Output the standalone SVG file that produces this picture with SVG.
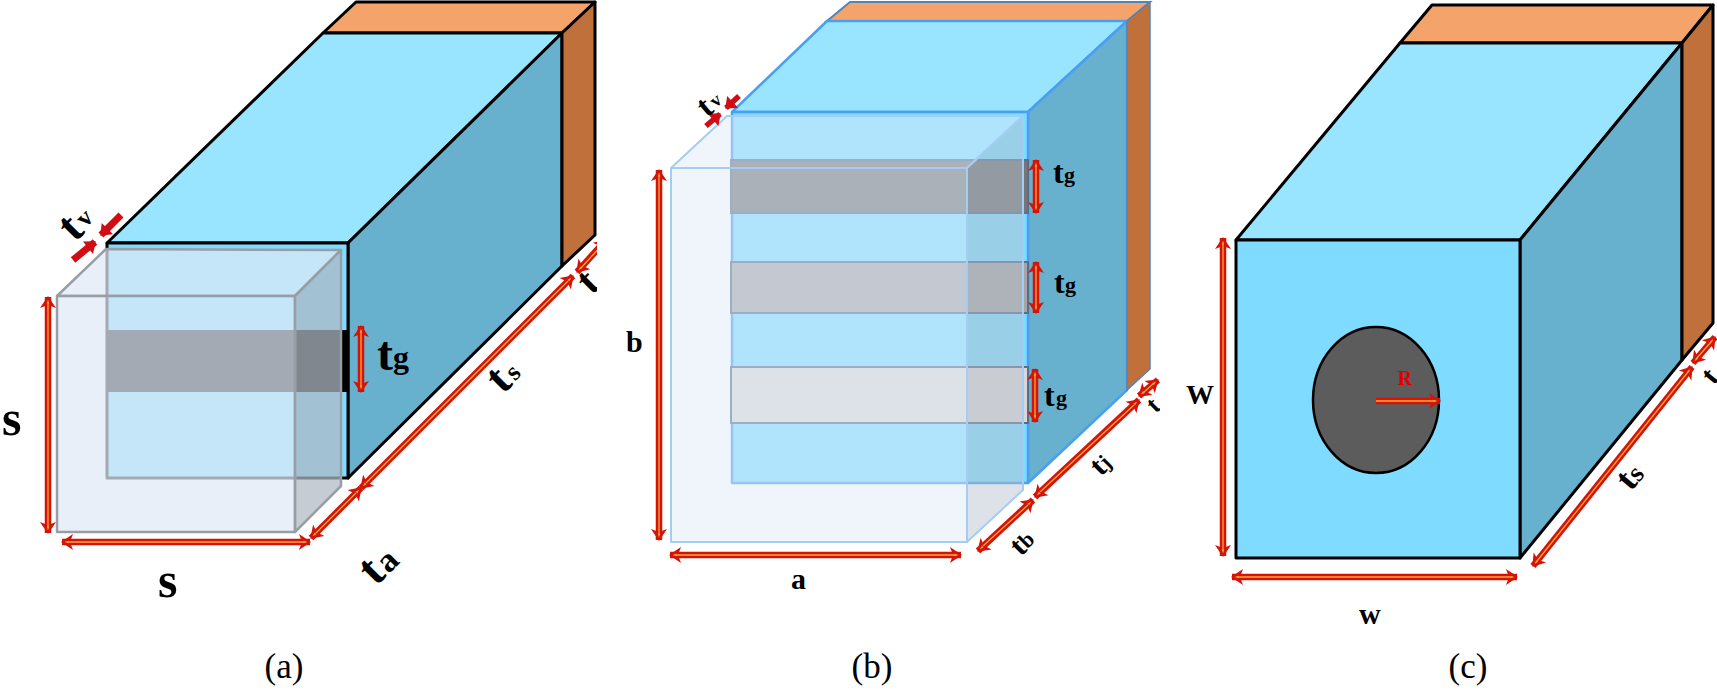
<svg xmlns="http://www.w3.org/2000/svg" width="1717" height="690" viewBox="0 0 1717 690">
<style>
text{font-family:"Liberation Serif","Times New Roman",serif;fill:#000}
.b{font-weight:bold}
.k{stroke:#000;stroke-width:3;stroke-linejoin:round}
.u{stroke:#4a9ff0;stroke-width:2.5;stroke-linejoin:round}
.top{fill:#99e4ff}.side{fill:#67b1cf}.front{fill:#7fdbff}.or{fill:#f4a46a}.br{fill:#c0703a}
.ga{fill:#dfe9f5;fill-opacity:.73;stroke:#979ea5;stroke-width:2.5;stroke-linejoin:round}
.gas{fill:#afb9c4;fill-opacity:.73;stroke:#979ea5;stroke-width:2.5;stroke-linejoin:round}
.gb{fill:#e2ecfa;fill-opacity:.5;stroke:#a3cdf2;stroke-width:2;stroke-linejoin:round}
.gbs{fill:#b7c2ce;fill-opacity:.48;stroke:#a3cdf2;stroke-width:2;stroke-linejoin:round}
.r{stroke:#d41408;stroke-width:6.5;fill:none;marker-start:url(#h);marker-end:url(#h)}
.o{stroke:#f6a83c;stroke-width:1.3;fill:none}
.t{stroke:#d00c14;stroke-width:7;fill:none;marker-end:url(#s)}
</style>
<defs>
<marker id="h" markerUnits="userSpaceOnUse" markerWidth="16" markerHeight="18" refX="11" refY="9" orient="auto-start-reverse" overflow="visible">
<path d="M0,1 L12,9 L0,17 L3,9Z" fill="#d41408"/><path d="M4.5,7.8 L8.5,9 L4.5,10.2Z" fill="#f6a83c"/>
</marker>
<marker id="s" markerUnits="userSpaceOnUse" markerWidth="14" markerHeight="16" refX="9" refY="8" orient="auto" overflow="visible">
<path d="M0,0 L10,8 L0,16Z" fill="#d00c14"/>
</marker>
<clipPath id="ca"><rect x="0" y="0" width="597" height="690"/></clipPath>
<clipPath id="cb"><rect x="600" y="0" width="560" height="690"/></clipPath>
</defs>
<rect width="1717" height="690" fill="#fff"/>

<g id="node-a">
<polygon class="or k" points="323,33 356,2 595,2 562,33"/>
<polygon class="top k" points="107,243 323,33 562,33 348,243"/>
<polygon class="side k" points="348,243 562,33 562,266 348,478"/>
<polygon class="br k" points="562,33 595,2 595,235 562,266"/>
<rect class="front k" x="107" y="243" width="241" height="235"/>
<rect x="107" y="330" width="241" height="62" fill="#000"/>
<polygon class="ga" points="57,296 106,249 341,250 295,296"/>
<rect class="ga" x="57" y="296" width="238" height="236"/>
<polygon class="gas" points="295,296 341,250 341,486 295,532"/>
</g>

<g id="node-b">
<polygon class="or" stroke="#4f86b8" stroke-width="2" points="827,21 850,2 1150,2 1127,21"/>
<polygon class="top u" points="732,112 827,21 1127,21 1028,112"/>
<polygon class="side u" points="1028,112 1127,21 1127,390 1028,483"/>
<polygon class="br" stroke="#4f86b8" stroke-width="1.5" points="1127,21 1150,2 1150,369 1127,390"/>
<rect class="front u" x="732" y="112" width="296" height="371"/>
<rect x="731" y="160" width="297" height="53" fill="#747678" stroke="#56708c" stroke-width="2"/>
<rect x="731" y="262" width="297" height="51" fill="#a6a4a6" stroke="#56708c" stroke-width="2"/>
<rect x="731" y="367" width="297" height="56" fill="#d8d6d6" stroke="#56708c" stroke-width="2"/>
<polygon class="gb" points="671,168 727,116 1023,116 967,168"/>
<rect class="gb" x="671" y="168" width="296" height="374"/>
<polygon class="gbs" points="967,168 1023,116 1023,490 967,542"/>
</g>

<g id="node-c">
<polygon class="or k" points="1400,43 1432,5 1713,5 1682,43"/>
<polygon class="top k" points="1236,240 1400,43 1682,43 1520,240"/>
<polygon class="side k" points="1520,240 1682,43 1682,360 1520,558"/>
<polygon class="br k" points="1682,43 1713,5 1713,323 1682,360"/>
<rect class="front k" x="1236" y="240" width="284" height="318"/>
<ellipse cx="1376" cy="400" rx="63" ry="73" fill="#5c5c5c" stroke="#000" stroke-width="2.5"/>
</g>

<g id="connectors">
<g><line class="r" x1="48" y1="297" x2="48" y2="533"/><line class="o" x1="48" y1="303" x2="48" y2="527"/></g>
<g><line class="r" x1="62" y1="542" x2="310" y2="542"/><line class="o" x1="68" y1="542" x2="304" y2="542"/></g>
<g><line class="r" x1="311" y1="538" x2="361" y2="488"/><line class="o" x1="316" y1="533" x2="356" y2="493"/></g>
<g clip-path="url(#ca)"><line class="r" x1="361" y1="488" x2="573" y2="276"/><line class="o" x1="366" y1="483" x2="568" y2="281"/>
<line class="r" x1="577" y1="272" x2="606" y2="240"/><line class="o" x1="581" y1="268" x2="602" y2="245"/></g>
<g><line class="r" x1="361" y1="326" x2="361" y2="392"/><line class="o" x1="361" y1="332" x2="361" y2="386"/></g>
<line class="t" x1="73" y1="260" x2="95" y2="242"/>
<line class="t" x1="121" y1="215" x2="101" y2="235"/>

<g><line class="r" x1="659" y1="170" x2="659" y2="540"/><line class="o" x1="659" y1="176" x2="659" y2="534"/></g>
<g><line class="r" x1="670" y1="555" x2="961" y2="555"/><line class="o" x1="676" y1="555" x2="955" y2="555"/></g>
<g><line class="r" x1="978" y1="551" x2="1033" y2="500"/><line class="o" x1="983" y1="546" x2="1028" y2="505"/></g>
<g><line class="r" x1="1035" y1="497" x2="1139" y2="400"/><line class="o" x1="1040" y1="492" x2="1134" y2="405"/></g>
<g clip-path="url(#cb)"><line class="r" x1="1139" y1="396" x2="1158" y2="380"/><line class="o" x1="1143" y1="393" x2="1154" y2="383"/></g>
<g><line class="r" x1="1036" y1="160" x2="1036" y2="213"/><line class="o" x1="1036" y1="166" x2="1036" y2="207"/></g>
<g><line class="r" x1="1036" y1="262" x2="1036" y2="313"/><line class="o" x1="1036" y1="268" x2="1036" y2="307"/></g>
<g><line class="r" x1="1035" y1="369" x2="1035" y2="422"/><line class="o" x1="1035" y1="375" x2="1035" y2="416"/></g>
<line class="t" style="stroke-width:5.5" x1="706" y1="126" x2="720" y2="114"/>
<line class="t" style="stroke-width:5.5" x1="739" y1="96" x2="726" y2="108"/>

<g><line class="r" x1="1223" y1="238" x2="1223" y2="556"/><line class="o" x1="1223" y1="244" x2="1223" y2="550"/></g>
<g><line class="r" x1="1232" y1="577" x2="1517" y2="577"/><line class="o" x1="1238" y1="577" x2="1511" y2="577"/></g>
<g><line class="r" x1="1533" y1="566" x2="1692" y2="367"/><line class="o" x1="1537" y1="561" x2="1688" y2="372"/></g>
<g><line class="r" x1="1693" y1="363" x2="1715" y2="337"/><line class="o" x1="1697" y1="358" x2="1711" y2="342"/></g>
<g><line class="r" x1="1376" y1="401" x2="1440" y2="401" style="marker-start:none"/><line class="o" x1="1376" y1="401" x2="1434" y2="401"/></g>
</g>

<g id="labels">
<text class="b" x="2" y="435" font-size="50">s</text>
<text class="b" x="158" y="597" font-size="50">s</text>
<g transform="translate(75,243) rotate(-45)"><text class="b" x="0" y="0" font-size="46">t</text><text class="b" x="18" y="-3" font-size="26">v</text></g>
<text class="b" x="377" y="370" font-size="48">t</text><text class="b" x="393" y="368" font-size="32">g</text>
<g transform="translate(503,395) rotate(-45)"><text class="b" x="0" y="0" font-size="46">t</text><text class="b" x="18" y="-1" font-size="26">s</text></g>
<g transform="translate(376,587) rotate(-45)"><text class="b" x="0" y="0" font-size="48">t</text><text class="b" x="18" y="0" font-size="34">a</text></g>
<g clip-path="url(#ca)"><text class="b" transform="translate(592,296) rotate(-45)" font-size="42">t</text></g>

<g transform="translate(707,118) rotate(-40)"><text class="b" x="0" y="0" font-size="32">t</text><text class="b" x="13" y="-2" font-size="19">v</text></g>
<text class="b" x="626" y="352" font-size="30">b</text>
<text class="b" x="791" y="589" font-size="30">a</text>
<text class="b" x="1053" y="183" font-size="32">t</text><text class="b" x="1064" y="182" font-size="22">g</text>
<text class="b" x="1054" y="293" font-size="32">t</text><text class="b" x="1065" y="292" font-size="22">g</text>
<text class="b" x="1044" y="406" font-size="32">t</text><text class="b" x="1056" y="405" font-size="22">g</text>
<g transform="translate(1021,557) rotate(-45)"><text class="b" x="0" y="0" font-size="30">t</text><text class="b" x="10" y="-1" font-size="22">b</text></g>
<g transform="translate(1101,477) rotate(-45)"><text class="b" x="0" y="0" font-size="30">t</text><text class="b" x="10" y="-1" font-size="22">j</text></g>
<g clip-path="url(#cb)"><text class="b" transform="translate(1156,414) rotate(-45)" font-size="26">t</text></g>

<text class="b" x="1186" y="404" font-size="28">W</text>
<text class="b" x="1359" y="624" font-size="30">w</text>
<text x="1405" y="385" font-size="20" font-weight="bold" text-anchor="middle" style="fill:#e00000">R</text>
<g transform="translate(1631,492) rotate(-50)"><text class="b" x="0" y="0" font-size="36">t</text><text class="b" x="12" y="0" font-size="27">s</text></g>
<text class="b" transform="translate(1714,386) rotate(-50)" font-size="30">t</text>

<text x="284" y="678" font-size="35" text-anchor="middle">(a)</text>
<text x="872" y="678" font-size="35" text-anchor="middle">(b)</text>
<text x="1468" y="678" font-size="35" text-anchor="middle">(c)</text>
</g>
</svg>
